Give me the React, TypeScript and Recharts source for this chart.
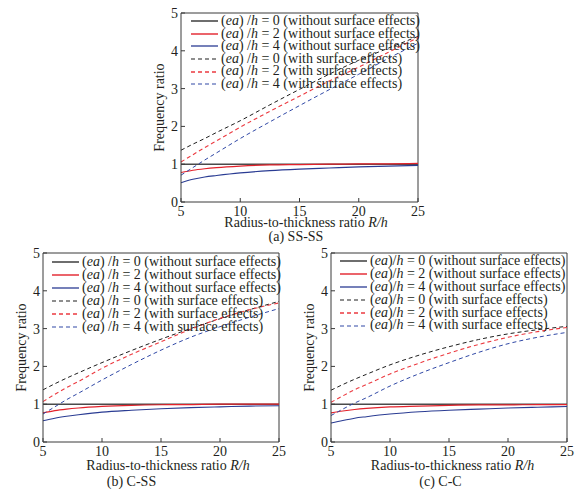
import { LineChart, Line, XAxis, YAxis, Legend, ReferenceLine } from "recharts";

// radius-to-thickness ratio R/h sampled along the x axis
const R_OVER_H = [5, 6, 7, 8, 10, 12.5, 15, 17.5, 20, 22.5, 25];
const X_TICKS = [5, 10, 15, 20, 25];
const Y_TICKS = [0, 1, 2, 3, 4, 5];

// (a) SS-SS
const SSSS_0 = [1, 1, 1, 1, 1, 1, 1, 1, 1, 1, 1];
const SSSS_2 = [0.78, 0.84, 0.88, 0.91, 0.95, 0.98, 0.99, 1.0, 1.01, 1.01, 1.02];
const SSSS_4 = [0.51, 0.6, 0.66, 0.7, 0.77, 0.83, 0.87, 0.9, 0.93, 0.95, 0.97];
const SSSS_0S = [1.37, 1.53, 1.68, 1.84, 2.15, 2.57, 2.98, 3.38, 3.75, 4.07, 4.38];
const SSSS_2S = [1.06, 1.25, 1.44, 1.62, 1.98, 2.4, 2.8, 3.2, 3.57, 3.96, 4.35];
const SSSS_4S = [0.71, 0.91, 1.11, 1.3, 1.68, 2.12, 2.55, 2.97, 3.38, 3.8, 4.2];

// (b) C-SS
const CSS_0 = [1, 1, 1, 1, 1, 1, 1, 1, 1, 1, 1];
const CSS_2 = [0.77, 0.83, 0.87, 0.9, 0.94, 0.97, 0.985, 0.99, 1.0, 1.0, 1.0];
const CSS_4 = [0.56, 0.63, 0.68, 0.72, 0.79, 0.84, 0.88, 0.91, 0.93, 0.95, 0.96];
const CSS_0S = [1.38, 1.54, 1.69, 1.83, 2.1, 2.42, 2.72, 3.0, 3.26, 3.5, 3.72];
const CSS_2S = [1.07, 1.26, 1.44, 1.6, 1.95, 2.32, 2.65, 2.98, 3.27, 3.5, 3.68];
const CSS_4S = [0.74, 0.93, 1.12, 1.29, 1.64, 2.05, 2.43, 2.77, 3.05, 3.3, 3.53];

// (c) C-C
const CC_0 = [1, 1, 1, 1, 1, 1, 1, 1, 1, 1, 1];
const CC_2 = [0.77, 0.82, 0.86, 0.89, 0.93, 0.95, 0.97, 0.98, 0.98, 0.99, 0.99];
const CC_4 = [0.5, 0.57, 0.63, 0.67, 0.74, 0.8, 0.84, 0.87, 0.9, 0.92, 0.94];
const CC_0S = [1.37, 1.52, 1.66, 1.79, 2.04, 2.3, 2.52, 2.71, 2.86, 2.97, 3.06];
const CC_2S = [1.05, 1.22, 1.38, 1.52, 1.8, 2.09, 2.35, 2.58, 2.77, 2.92, 3.03];
const CC_4S = [0.7, 0.87, 1.03, 1.17, 1.48, 1.81, 2.1, 2.37, 2.6, 2.77, 2.9];

const FONT = '"Liberation Serif", "Times New Roman", serif';
const INK = "#231f20";
const AXIS = "#3a3a3a";

type SeriesStyle = { key: string; level: number; surface: boolean; color: string; width: number; dash?: string };

const STYLES: SeriesStyle[] = [
  { key: "e0", level: 0, surface: false, color: "#4a4a4a", width: 1.4 },
  { key: "e2", level: 2, surface: false, color: "#e3222b", width: 1.2 },
  { key: "e4", level: 4, surface: false, color: "#2a3c93", width: 1.1 },
  { key: "e0s", level: 0, surface: true, color: "#1e1e1e", width: 1, dash: "4 3" },
  { key: "e2s", level: 2, surface: true, color: "#ec3a40", width: 1.1, dash: "4 3" },
  { key: "e4s", level: 4, surface: true, color: "#3048a6", width: 1, dash: "4 3" },
];

const buildRows = (cols: number[][]) =>
  R_OVER_H.map((r, i) => {
    const row: any = { r };
    STYLES.forEach((s, k) => {
      row[s.key] = cols[k][i];
    });
    return row;
  });

const LegendBox = ({ slash, rowH }: { slash: string; rowH: number }) => (
  <div style={{ fontFamily: FONT, fontSize: 14, color: INK, whiteSpace: "nowrap" }}>
    {STYLES.map((s) => (
      <div key={s.key} style={{ display: "flex", alignItems: "center", height: rowH, lineHeight: `${rowH}px` }}>
        <svg width={30} height={6} style={{ flex: "none" }}>
          <line x1={0} x2={27} y1={3} y2={3} stroke={s.color} strokeWidth={s.width + 0.2} strokeDasharray={s.dash} />
        </svg>
        <span>
          (<i>ea</i>){slash}<i>h</i> = {s.level} ({s.surface ? "with" : "without"} surface effects)
        </span>
      </div>
    ))}
  </div>
);

type PanelProps = {
  rows: any[];
  left: number;
  top: number;
  width: number;
  mLeft: number;
  mRight: number;
  caption: string;
  slash: string;
  legendLeft: number;
  legendTop: number;
  rowH: number;
  titleDx: number;
  titleDy: number;
  captionDx: number;
  captionDy: number;
};

const HEIGHT = 249;
const Y_AXIS_W = 40;
const X_AXIS_H = 47;
const M_TOP = 13;

const Panel = (p: PanelProps) => {
  const plotW = p.width - p.mLeft - Y_AXIS_W - p.mRight;
  const plotBottom = HEIGHT - X_AXIS_H;
  const cx = p.mLeft + Y_AXIS_W + plotW / 2;
  const titles = () => (
    <g fontFamily={FONT} fontSize={14} fill={INK}>
      <text x={cx + p.titleDx} y={plotBottom + p.titleDy} textAnchor="middle">
        Radius-to-thickness ratio <tspan fontStyle="italic">R/h</tspan>
      </text>
      <text x={cx + p.captionDx} y={plotBottom + p.captionDy} textAnchor="middle">
        {p.caption}
      </text>
    </g>
  );
  return (
    <div style={{ position: "absolute", left: p.left, top: p.top }}>
      <LineChart
        width={p.width}
        height={HEIGHT}
        data={p.rows}
        margin={{ top: M_TOP, right: p.mRight, bottom: 0, left: p.mLeft }}
      >
        <XAxis
          dataKey="r"
          type="number"
          domain={[5, 25]}
          ticks={X_TICKS}
          height={X_AXIS_H}
          stroke={AXIS}
          tickSize={-4}
          tickMargin={8}
          tick={{ fontFamily: FONT, fontSize: 14, fill: INK }}
          label={titles}
        />
        <YAxis
          type="number"
          domain={[0, 5]}
          ticks={Y_TICKS}
          width={Y_AXIS_W}
          stroke={AXIS}
          tickSize={-4}
          tickMargin={7}
          tick={{ fontFamily: FONT, fontSize: 14, fill: INK }}
          label={{
            value: "Frequency ratio",
            angle: -90,
            position: "insideLeft",
            offset: 18,
            style: { textAnchor: "middle", fontFamily: FONT, fontSize: 14, fill: INK },
          }}
        />
        <ReferenceLine x={25} stroke={AXIS} />
        <ReferenceLine y={5} stroke={AXIS} />
        {STYLES.map((s) => (
          <Line
            key={s.key}
            dataKey={s.key}
            type="monotone"
            stroke={s.color}
            strokeWidth={s.width}
            strokeDasharray={s.dash}
            dot={false}
            activeDot={false}
            isAnimationActive={false}
          />
        ))}
        <Legend
          layout="vertical"
          align="center"
          verticalAlign="middle"
          wrapperStyle={{ left: p.legendLeft, top: p.legendTop, width: "auto" }}
          content={() => <LegendBox slash={p.slash} rowH={p.rowH} />}
        />
      </LineChart>
    </div>
  );
};

export default function App() {
  return (
    <div style={{ position: "absolute", left: 0, top: 0, width: 587, height: 489, background: "#fff" }}>
      <Panel
        rows={buildRows([SSSS_0, SSSS_2, SSSS_4, SSSS_0S, SSSS_2S, SSSS_4S])}
        left={130}
        top={0}
        width={300}
        mLeft={11}
        mRight={12}
        caption="(a) SS-SS"
        slash=" /"
        legendLeft={61}
        legendTop={15}
        rowH={12.6}
        titleDx={6.5}
        titleDy={24.5}
        captionDx={-3.5}
        captionDy={39}
      />
      <Panel
        rows={buildRows([CSS_0, CSS_2, CSS_4, CSS_0S, CSS_2S, CSS_4S])}
        left={0}
        top={240}
        width={290}
        mLeft={3}
        mRight={11}
        caption="(b) C-SS"
        slash=" /"
        legendLeft={52}
        legendTop={15}
        rowH={13.1}
        titleDx={7}
        titleDy={27.5}
        captionDx={-29.5}
        captionDy={44}
      />
      <Panel
        rows={buildRows([CC_0, CC_2, CC_4, CC_0S, CC_2S, CC_4S])}
        left={290}
        top={240}
        width={290}
        mLeft={1}
        mRight={13}
        caption="(c) C-C"
        slash="/"
        legendLeft={50}
        legendTop={15}
        rowH={12.9}
        titleDx={3.5}
        titleDy={28}
        captionDx={-8.5}
        captionDy={44}
      />
    </div>
  );
}
